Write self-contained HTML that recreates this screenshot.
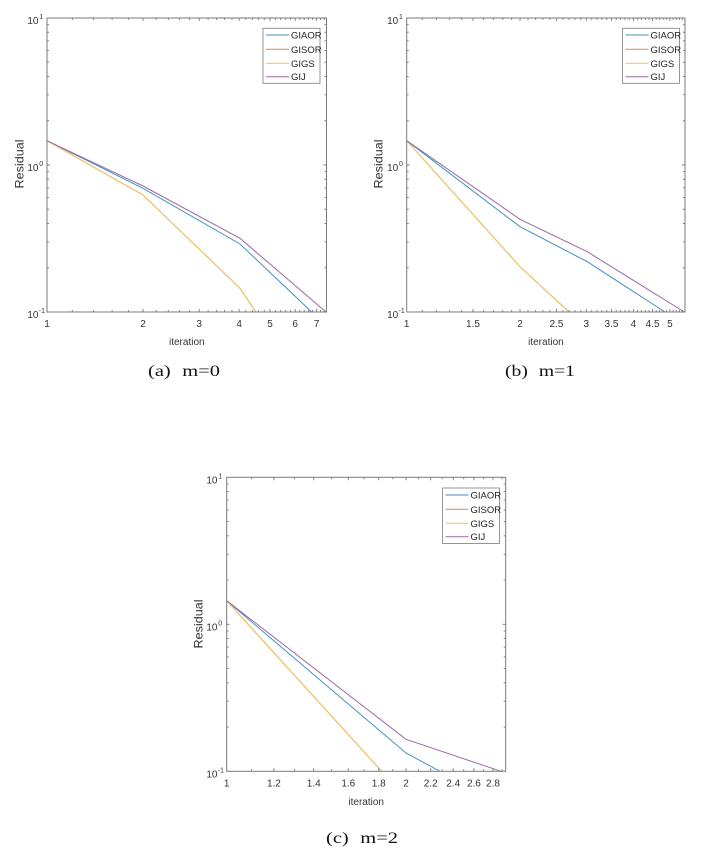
<!DOCTYPE html>
<html>
<head>
<meta charset="utf-8">
<style>
  html,body{margin:0;padding:0;background:#fff;}
  svg{display:block;}
  .tk{font-family:"Liberation Sans",Arial,sans-serif;font-size:10px;fill:#333;}
  .sup{font-family:"Liberation Sans",Arial,sans-serif;font-size:7px;fill:#333;}
  .lab{font-family:"Liberation Sans",Arial,sans-serif;font-size:10px;fill:#333;}
  .yl{font-family:"Liberation Sans",Arial,sans-serif;font-size:12px;fill:#333;}
  .lg{font-family:"Liberation Sans",Arial,sans-serif;font-size:9.5px;fill:#222;}
  .cap{font-family:"Liberation Serif","DejaVu Serif",serif;font-size:16px;fill:#111;}
  .ax{fill:none;stroke:#7a7a7a;stroke-width:1;}
  .tks{fill:none;stroke:#7a7a7a;stroke-width:0.9;}
  .s1{fill:none;stroke:#3f92c2;stroke-width:1;}
  .s2{fill:none;stroke:#e0845a;stroke-width:1;}
  .s3{fill:none;stroke:#ebc45e;stroke-width:1;}
  .s4{fill:none;stroke:#9a6aa3;stroke-width:1;}
  .lgb{fill:#fff;stroke:#8a8a8a;stroke-width:0.9;}
</style>
</head>
<body>
<svg width="701" height="856" viewBox="0 0 701 856" xmlns="http://www.w3.org/2000/svg">
<defs>
  <path id="yt" class="tks" d="M0 147h3M0 102.75h2M0 76.86h2M0 58.5h2M0 44.25h2M0 32.61h2M0 22.77h2M0 14.25h2M0 6.73h2M0 249.75h2M0 223.86h2M0 205.5h2M0 191.25h2M0 179.61h2M0 169.77h2M0 161.25h2M0 153.73h2"/>
  <path id="xa" class="tks" d="M96 0v-3M152.2 0v-3M192.1 0v-3M223 0v-3M248.2 0v-3M269.6 0v-3M25.3 0v-2M46.6 0v-2M65.1 0v-2M81.4 0v-2M109.2 0v-2M121.3 0v-2M132.4 0v-2M142.6 0v-2M161.1 0v-2M169.5 0v-2M177.5 0v-2M185 0v-2M198.8 0v-2M205.3 0v-2M211.4 0v-2M217.3 0v-2M228.4 0v-2M233.6 0v-2M238.7 0v-2M243.5 0v-2M252.8 0v-2M257.2 0v-2M261.4 0v-2M265.6 0v-2M273.5 0v-2M277.3 0v-2"/>
  <path id="xb" class="tks" d="M66.3 0v-3M113.3 0v-3M149.8 0v-3M179.6 0v-3M204.8 0v-3M226.7 0v-3M245.9 0v-3M263.2 0v-3M15.6 0v-2M29.8 0v-2M42.9 0v-2M55 0v-2M76.9 0v-2M86.8 0v-2M96.1 0v-2M105 0v-2M121.3 0v-2M128.9 0v-2M136.2 0v-2M143.2 0v-2M156.2 0v-2M162.4 0v-2M168.4 0v-2M174.1 0v-2M185 0v-2M190.2 0v-2M195.2 0v-2M200.1 0v-2M209.5 0v-2M213.9 0v-2M218.3 0v-2M222.5 0v-2M230.7 0v-2M234.7 0v-2M238.5 0v-2M242.3 0v-2M249.5 0v-2M253 0v-2M256.5 0v-2M259.9 0v-2M266.4 0v-2M269.6 0v-2M272.7 0v-2M275.7 0v-2"/>
  <path id="xc" class="tks" d="M47.2 0v-3M87 0v-3M121.6 0v-3M152 0v-3M179.3 0v-3M204 0v-3M226.5 0v-3M247.2 0v-3M266.3 0v-3M24.7 0v-2M67.9 0v-2M104.9 0v-2M137.3 0v-2M166 0v-2M191.9 0v-2M215.5 0v-2M237 0v-2M256.9 0v-2M275.4 0v-2"/>
</defs>

<!-- ================= (a) ================= -->
<polyline class="s1" points="47,140.7 143,188.3 240,244 311.7,312"/>
<polyline class="s2" points="47,140.7 143,195 240,288.3 256,312"/>
<polyline class="s3" points="47,140.7 143,195 240,288.3 256,312"/>
<polyline class="s4" points="47,140.7 143,186 240,238.3 326,312"/>
<rect class="ax" x="47" y="18" width="279.5" height="294"/>
<use href="#yt" transform="translate(47,18)"/>
<use href="#yt" transform="translate(326.5,18) scale(-1,1)"/>
<use href="#xa" transform="translate(47,312)"/>
<use href="#xa" transform="translate(47,18) scale(1,-1)"/>
<g class="tk" text-anchor="middle">
  <text x="47" y="327">1</text><text x="143" y="327">2</text><text x="199.2" y="327">3</text>
  <text x="239.1" y="327">4</text><text x="270" y="327">5</text><text x="295.2" y="327">6</text>
  <text x="316.6" y="327">7</text>
</g>
<g class="tk" text-anchor="end">
  <text x="38.5" y="24">10</text><text x="38.5" y="171">10</text><text x="38.5" y="318">10</text>
</g>
<g class="sup">
  <text x="39.3" y="19">1</text><text x="39.3" y="166">0</text><text x="38.8" y="313">-1</text>
</g>
<text class="lab" x="186.8" y="345" text-anchor="middle">iteration</text>
<text class="yl" transform="translate(23.5,164) rotate(-90)" text-anchor="middle" textLength="49" lengthAdjust="spacingAndGlyphs">Residual</text>
<rect class="lgb" x="263" y="28.3" width="57" height="55"/>
<line class="s1" x1="266" y1="35" x2="289" y2="35"/>
<line class="s2" x1="266" y1="49.3" x2="289" y2="49.3"/>
<line class="s3" x1="266" y1="63.3" x2="289" y2="63.3"/>
<line class="s4" x1="266" y1="76.7" x2="289" y2="76.7"/>
<g class="lg">
  <text x="291" y="38.5">GIAOR</text><text x="291" y="52.8">GISOR</text>
  <text x="291" y="66.8">GIGS</text><text x="291" y="80.2">GIJ</text>
</g>
<text class="cap" x="184" y="376" text-anchor="middle" textLength="72" lengthAdjust="spacingAndGlyphs">(a)<tspan dx="9">m=0</tspan></text>

<!-- ================= (b) ================= -->
<polyline class="s1" points="406.7,140.7 520,226.7 587.3,261.7 665,312"/>
<polyline class="s2" points="406.7,140.7 520,266.7 569,312"/>
<polyline class="s3" points="406.7,140.7 520,266.7 569,312"/>
<polyline class="s4" points="406.7,140.7 520,219.3 587.3,251.7 684.3,312"/>
<rect class="ax" x="406.7" y="18" width="278.3" height="294"/>
<use href="#yt" transform="translate(406.7,18)"/>
<use href="#yt" transform="translate(685,18) scale(-1,1)"/>
<use href="#xb" transform="translate(406.7,312)"/>
<use href="#xb" transform="translate(406.7,18) scale(1,-1)"/>
<g class="tk" text-anchor="middle">
  <text x="406.7" y="327">1</text><text x="473" y="327">1.5</text><text x="520" y="327">2</text>
  <text x="556.5" y="327">2.5</text><text x="586.3" y="327">3</text><text x="611.5" y="327">3.5</text>
  <text x="633.4" y="327">4</text><text x="652.6" y="327">4.5</text><text x="669.9" y="327">5</text>
</g>
<g class="tk" text-anchor="end">
  <text x="398.2" y="24">10</text><text x="398.2" y="171">10</text><text x="398.2" y="318">10</text>
</g>
<g class="sup">
  <text x="399" y="19">1</text><text x="399" y="166">0</text><text x="398.5" y="313">-1</text>
</g>
<text class="lab" x="545.9" y="345" text-anchor="middle">iteration</text>
<text class="yl" transform="translate(382.6,164) rotate(-90)" text-anchor="middle" textLength="49" lengthAdjust="spacingAndGlyphs">Residual</text>
<rect class="lgb" x="622.5" y="28.3" width="57" height="55"/>
<line class="s1" x1="625.5" y1="35" x2="648.5" y2="35"/>
<line class="s2" x1="625.5" y1="49.3" x2="648.5" y2="49.3"/>
<line class="s3" x1="625.5" y1="63.3" x2="648.5" y2="63.3"/>
<line class="s4" x1="625.5" y1="76.7" x2="648.5" y2="76.7"/>
<g class="lg">
  <text x="650.5" y="38.5">GIAOR</text><text x="650.5" y="52.8">GISOR</text>
  <text x="650.5" y="66.8">GIGS</text><text x="650.5" y="80.2">GIJ</text>
</g>
<text class="cap" x="540" y="376" text-anchor="middle" textLength="70" lengthAdjust="spacingAndGlyphs">(b)<tspan dx="9">m=1</tspan></text>

<!-- ================= (c) ================= -->
<polyline class="s1" points="226.7,600.7 406,753 440,771.3"/>
<polyline class="s2" points="226.7,600.7 381.7,771.3"/>
<polyline class="s3" points="226.7,600.7 381.7,771.3"/>
<polyline class="s4" points="226.7,600.7 406,739.3 501,771.3"/>
<rect class="ax" x="226.7" y="477.3" width="279" height="294"/>
<use href="#yt" transform="translate(226.7,477.3)"/>
<use href="#yt" transform="translate(505.7,477.3) scale(-1,1)"/>
<use href="#xc" transform="translate(226.7,771.3)"/>
<use href="#xc" transform="translate(226.7,477.3) scale(1,-1)"/>
<g class="tk" text-anchor="middle">
  <text x="226.7" y="786.7">1</text><text x="273.9" y="786.7">1.2</text><text x="313.7" y="786.7">1.4</text>
  <text x="348.3" y="786.7">1.6</text><text x="378.7" y="786.7">1.8</text><text x="406" y="786.7">2</text>
  <text x="430.7" y="786.7">2.2</text><text x="453.2" y="786.7">2.4</text><text x="473.9" y="786.7">2.6</text>
  <text x="493" y="786.7">2.8</text>
</g>
<g class="tk" text-anchor="end">
  <text x="217.5" y="483.3">10</text><text x="217.5" y="630.3">10</text><text x="217.5" y="777.3">10</text>
</g>
<g class="sup">
  <text x="218.3" y="478.3">1</text><text x="218.3" y="625.3">0</text><text x="217.8" y="772.3">-1</text>
</g>
<text class="lab" x="366.2" y="805" text-anchor="middle">iteration</text>
<text class="yl" transform="translate(202.6,624) rotate(-90)" text-anchor="middle" textLength="49" lengthAdjust="spacingAndGlyphs">Residual</text>
<rect class="lgb" x="442.5" y="488" width="57" height="55.5"/>
<line class="s1" x1="445.5" y1="495" x2="468.5" y2="495"/>
<line class="s2" x1="445.5" y1="509.3" x2="468.5" y2="509.3"/>
<line class="s3" x1="445.5" y1="523.3" x2="468.5" y2="523.3"/>
<line class="s4" x1="445.5" y1="536.7" x2="468.5" y2="536.7"/>
<g class="lg">
  <text x="470.5" y="498.5">GIAOR</text><text x="470.5" y="512.8">GISOR</text>
  <text x="470.5" y="526.8">GIGS</text><text x="470.5" y="540.2">GIJ</text>
</g>
<text class="cap" x="362" y="843" text-anchor="middle" textLength="72" lengthAdjust="spacingAndGlyphs">(c)<tspan dx="9">m=2</tspan></text>
</svg>
</body>
</html>
